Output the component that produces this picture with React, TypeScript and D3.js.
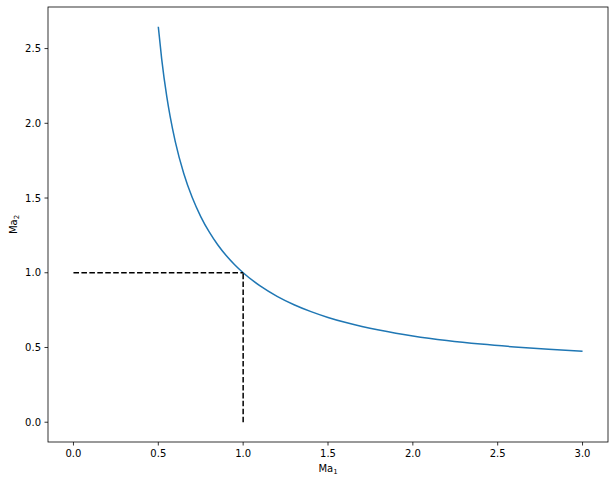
import React from "react";
import * as d3 from "d3";

const ma1 = [0.5, 0.52, 0.55, 0.57, 0.6, 0.65, 0.7, 0.75, 0.8, 0.85, 0.9, 0.95, 1.0, 1.1, 1.2, 1.3, 1.4, 1.5, 1.6, 1.7, 1.8, 1.9, 2.0, 2.2, 2.4, 2.6, 2.8, 3.0];
const ma2 = [2.6458, 2.4297, 2.1783, 2.0442, 1.8778, 1.6644, 1.5031, 1.3761, 1.2731, 1.1876, 1.1154, 1.0536, 1.0, 0.9118, 0.8422, 0.786, 0.7397, 0.7011, 0.6684, 0.6405, 0.6165, 0.5956, 0.5774, 0.5471, 0.5231, 0.5039, 0.4882, 0.4752];
const hLineX = [0, 1];
const hLineY = [1, 1];
const vLineX = [1, 1];
const vLineY = [0, 1];
const xTicks = [0, 0.5, 1.0, 1.5, 2.0, 2.5, 3.0];
const yTicks = [0, 0.5, 1.0, 1.5, 2.0, 2.5];

const W = 613, H = 484;
const L = 48, R = 608, T = 7, B = 442;

export default function App() {
  const x = d3.scaleLinear().domain([-0.15, 3.15]).range([L, R]);
  const y = d3.scaleLinear().domain([-0.1323, 2.7781]).range([B, T]);
  const line = d3.line<number>().x((_, i) => x(ma1[i])).y((d) => y(d)).curve(d3.curveMonotoneX);
  const seg = d3.line<number>();
  const hPath = d3.line<number>().x((_, i) => x(hLineX[i])).y((d) => y(d))(hLineY) || "";
  const vPath = d3.line<number>().x((_, i) => x(vLineX[i])).y((d) => y(d))(vLineY) || "";
  void seg;
  const font = "DejaVu Sans, sans-serif";
  return (
    <svg width={W} height={H} style={{ position: "absolute", left: 0, top: 0, background: "#fff" }} fontFamily={font}>
      <rect x={0} y={0} width={W} height={H} fill="#fff" />
      <path d={line(ma2) || ""} fill="none" stroke="#1f77b4" strokeWidth={1.5} />
      <path d={hPath} fill="none" stroke="#000" strokeWidth={1.5} strokeDasharray="5.55,2.4" />
      <path d={vPath} fill="none" stroke="#000" strokeWidth={1.5} strokeDasharray="5.55,2.4" />
      <rect x={L} y={T} width={R - L} height={B - T} fill="none" stroke="#000" strokeWidth={0.8} />
      {xTicks.map((t) => (
        <g key={"x" + t}>
          <line x1={x(t)} x2={x(t)} y1={B} y2={B + 3.5} stroke="#000" strokeWidth={0.8} />
          <text x={x(t)} y={B + 15} fontSize={10} textAnchor="middle" fill="#000">{t.toFixed(1)}</text>
        </g>
      ))}
      {yTicks.map((t) => (
        <g key={"y" + t}>
          <line x1={L - 3.5} x2={L} y1={y(t)} y2={y(t)} stroke="#000" strokeWidth={0.8} />
          <text x={L - 7} y={y(t) + 3.5} fontSize={10} textAnchor="end" fill="#000">{t.toFixed(1)}</text>
        </g>
      ))}
      <text x={(L + R) / 2} y={472} fontSize={10} textAnchor="middle" fill="#000">
        Ma<tspan fontSize={7} dy={2}>1</tspan>
      </text>
      <text transform={`translate(17,${(T + B) / 2}) rotate(-90)`} fontSize={10} textAnchor="middle" fill="#000">
        Ma<tspan fontSize={7} dy={2}>2</tspan>
      </text>
    </svg>
  );
}
